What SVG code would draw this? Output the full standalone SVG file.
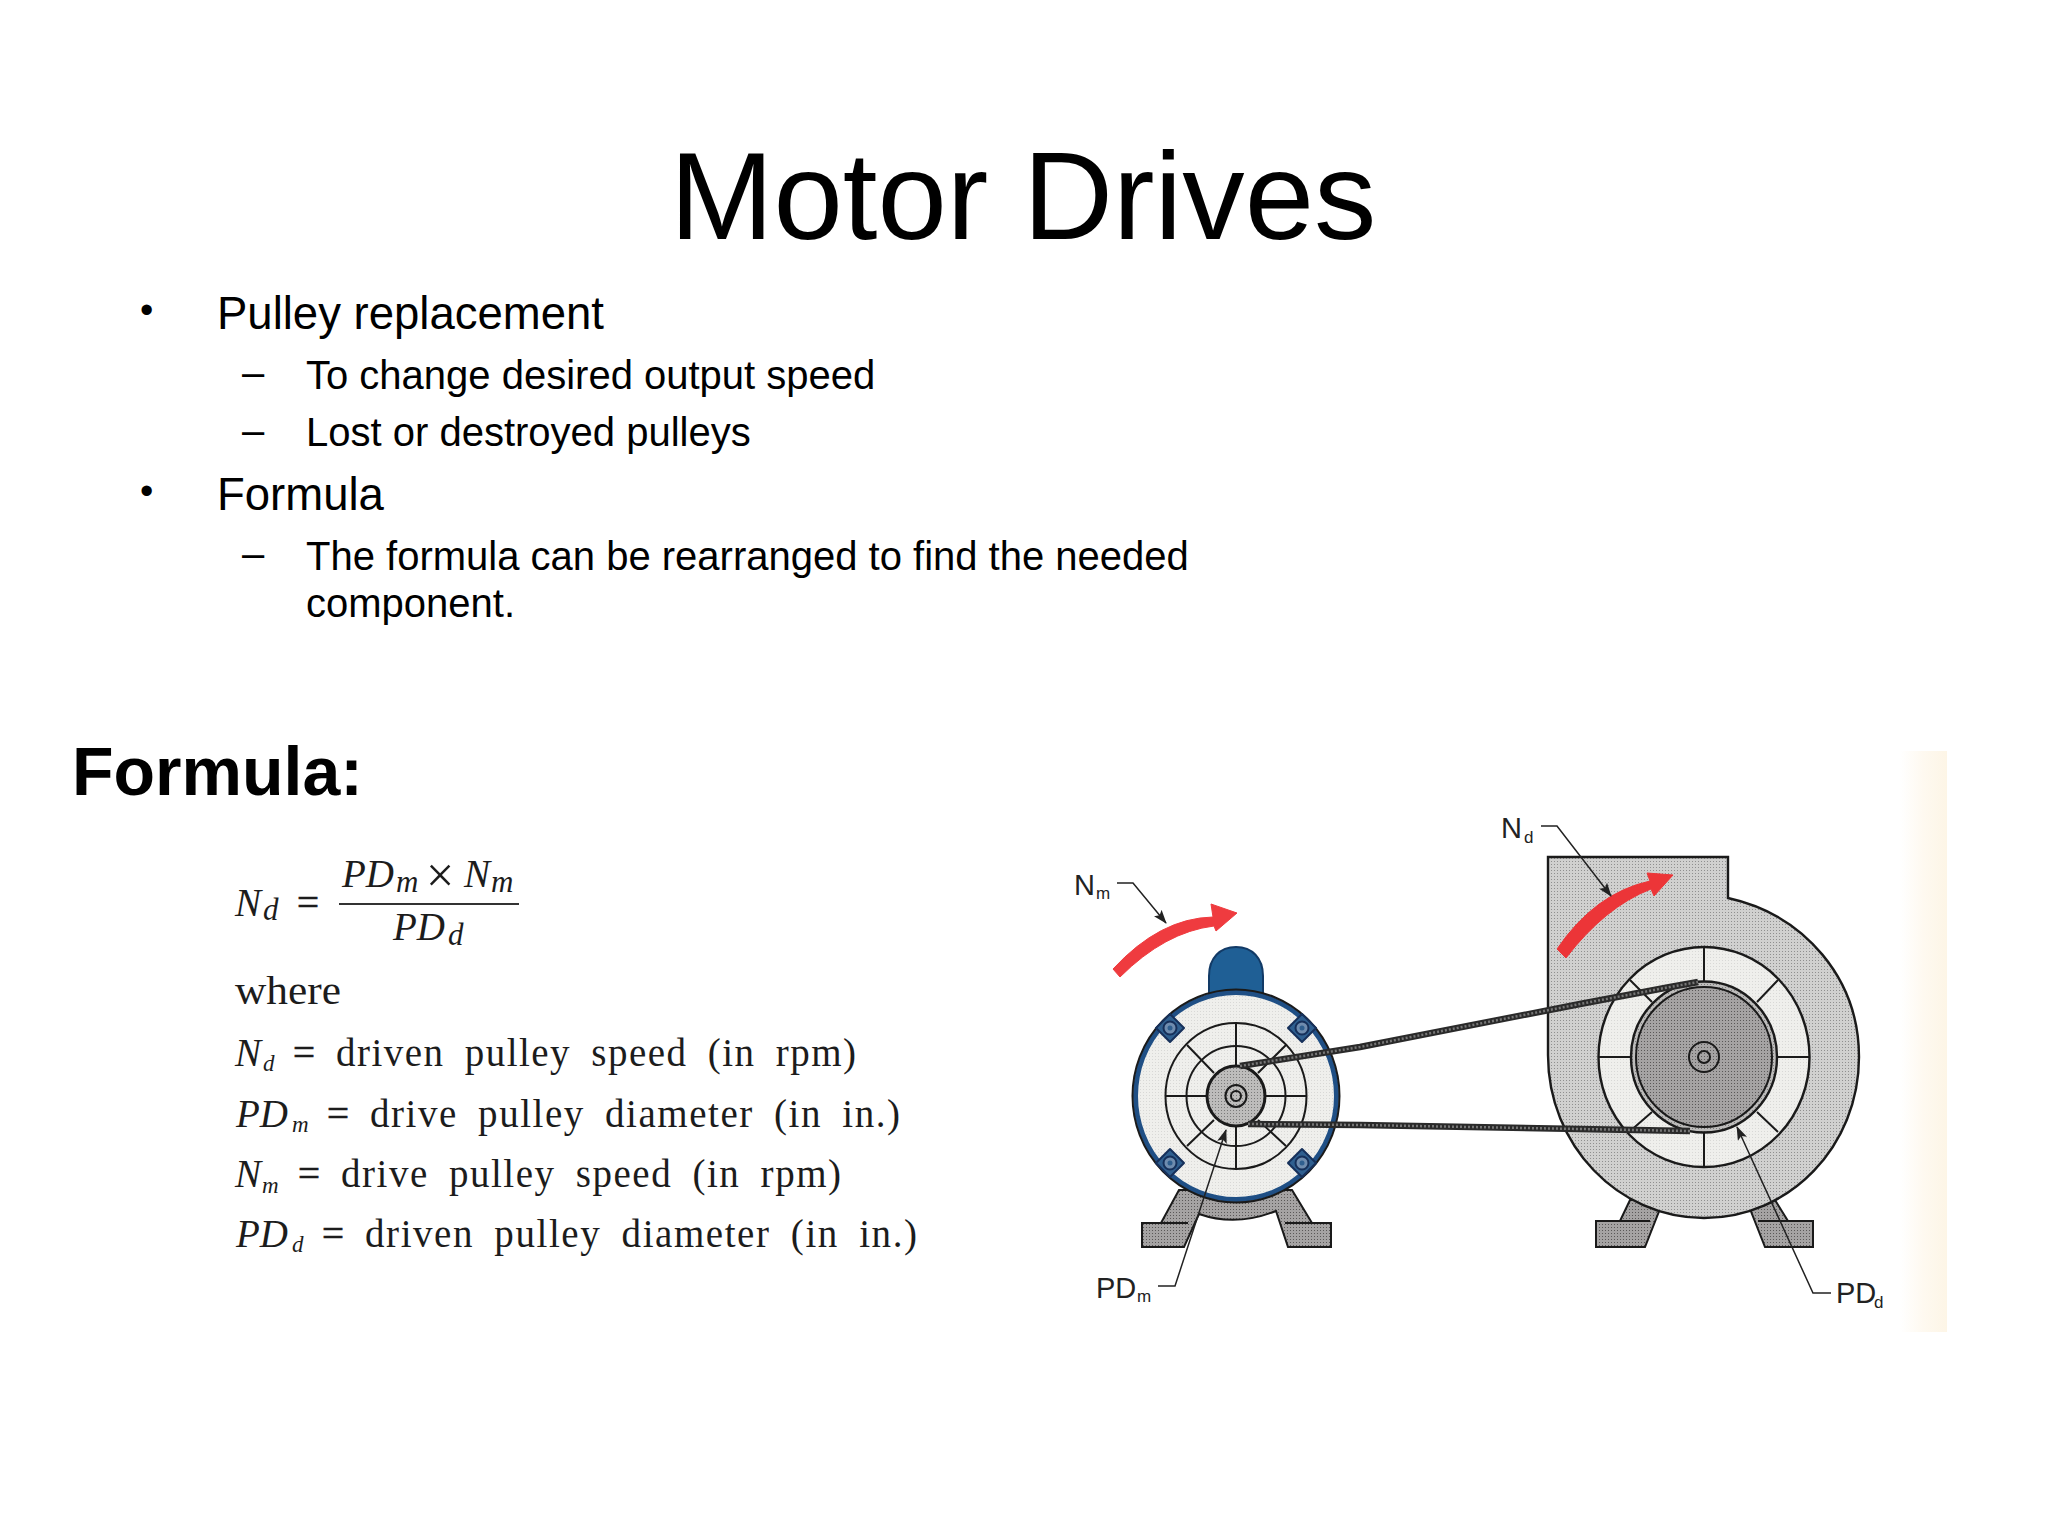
<svg xmlns="http://www.w3.org/2000/svg" width="2048" height="1536" viewBox="0 0 2048 1536">
<style>
.s{font-family:"Liberation Sans",Arial,sans-serif;fill:#000}
.b{font-size:45.5px}.c{font-size:40px}.d{font-size:38px}
.t{font-family:"Liberation Serif","Times New Roman",serif;fill:#1c1c1c;font-size:39px}
.w{word-spacing:9px}.e{stroke:#1c1c1c;stroke-width:.7px}
.i{font-style:italic}.u{font-size:23px;font-style:italic}.v{font-size:31px;font-style:italic}
.l{font-family:"Liberation Sans",Arial,sans-serif;fill:#222;font-size:29px}.ls{font-size:17px}
.k{fill:none;stroke:#1a1a1a;stroke-width:2}
.ld{fill:none;stroke:#222;stroke-width:1.5}
.belt{fill:none;stroke:#2a2a2a;stroke-width:6.5}
.beltm{fill:none;stroke:#777;stroke-width:2.5;stroke-dasharray:2 2}
</style>
<defs>
<linearGradient id="paper" x1="0" x2="1" y1="0" y2="0"><stop offset="0" stop-color="#fff"/><stop offset=".5" stop-color="#fef9f0"/><stop offset="1" stop-color="#fdf5e6"/></linearGradient>
<pattern id="h1" width="3" height="3" patternUnits="userSpaceOnUse"><rect width="3" height="3" fill="#d0d0cf"/><rect width="1" height="1" fill="#8f8f8f"/></pattern>
<pattern id="h2" width="3" height="3" patternUnits="userSpaceOnUse"><rect width="3" height="3" fill="#a5a3a3"/><rect width="1" height="1" fill="#5a5858"/></pattern>
<pattern id="h3" width="3" height="3" patternUnits="userSpaceOnUse"><rect width="3" height="3" fill="#bdbcbb"/><rect width="1" height="1" fill="#7a7a7a"/></pattern>
<pattern id="h4" width="3" height="3" patternUnits="userSpaceOnUse"><rect width="3" height="3" fill="#efefec"/><rect width="1" height="1" fill="#d8d8d6"/></pattern>
<marker id="ah" markerWidth="14" markerHeight="10" refX="13" refY="5" orient="auto" markerUnits="userSpaceOnUse"><path d="M0 0L14 5L0 10L3 5Z" fill="#222"/></marker>
<g id="bolt"><path d="M0 -14L14 0L0 14L-14 0Z" fill="#2f5f8f" stroke="#16305a" stroke-width="2" stroke-linejoin="round"/><circle r="6.500" fill="#6f8cae" stroke="#16305a" stroke-width="2"/><circle r="2.500" fill="#2f5f8f"/></g>
</defs>
<rect width="2048" height="1536" fill="#fff"/>
<rect x="1900" y="751" width="47" height="581" fill="url(#paper)"/>
<g id="title"><text class="s" x="1023" y="239" font-size="124.700" text-anchor="middle">Motor Drives</text></g>
<g id="bullets">
<text class="s d" x="140" y="323">•</text><text class="s b" x="217" y="329">Pulley replacement</text>
<text class="s c" x="242" y="386">–</text><text class="s c" x="306" y="389">To change desired output speed</text>
<text class="s c" x="242" y="444">–</text><text class="s c" x="306" y="446">Lost or destroyed pulleys</text>
<text class="s d" x="140" y="504">•</text><text class="s b" x="217" y="510">Formula</text>
<text class="s c" x="242" y="567">–</text><text class="s c" x="306" y="570">The formula can be rearranged to find the needed</text>
<text class="s c" x="306" y="617">component.</text>
</g>
<text id="formula-heading" class="s" x="72" y="795" font-size="68" font-weight="700">Formula:</text>
<g id="formula">
<text class="t i" x="235" y="916">N</text><text class="t v" x="263" y="920">d</text><text class="t e" x="297" y="916">=</text>
<text class="t i" x="342" y="887">PD</text><text class="t v" x="396" y="892">m</text>
<text class="t" x="426" y="892" style="font-size:50px">×</text><text class="t i" x="464" y="887">N</text><text class="t v" x="491" y="892">m</text>
<rect x="339" y="903" width="180" height="2" fill="#333"/>
<text class="t i" x="393" y="940">PD</text><text class="t v" x="448" y="945">d</text>
<text class="t" x="235" y="1004" textLength="106" lengthAdjust="spacingAndGlyphs">where</text>
<text class="t i" x="235" y="1066">N</text><text class="t u" x="263" y="1071">d</text><text class="t e" x="293" y="1066">=</text><text class="t w" x="336" y="1066" textLength="520" lengthAdjust="spacing">driven pulley speed (in rpm)</text>
<text class="t i" x="236" y="1127">PD</text><text class="t u" x="292" y="1132">m</text><text class="t e" x="327" y="1127">=</text><text class="t w" x="370" y="1127" textLength="530" lengthAdjust="spacing">drive pulley diameter (in in.)</text>
<text class="t i" x="235" y="1187">N</text><text class="t u" x="262" y="1193">m</text><text class="t e" x="298" y="1187">=</text><text class="t w" x="341" y="1187" textLength="500" lengthAdjust="spacing">drive pulley speed (in rpm)</text>
<text class="t i" x="236" y="1247">PD</text><text class="t u" x="292" y="1252">d</text><text class="t e" x="322" y="1247">=</text><text class="t w" x="365" y="1247" textLength="552" lengthAdjust="spacing">driven pulley diameter (in in.)</text>
</g>
<g id="motor">
<path d="M1142 1223H1161L1179 1190H1292L1312 1223H1331V1247H1288L1276 1211Q1236 1227 1199 1214L1184 1247H1142Z" fill="url(#h2)" stroke="#1a1a1a" stroke-width="2"/>
<path d="M1161 1223H1188M1285 1223H1312" class="k"/>
<path d="M1209 1000V976C1209 958 1220 947 1236 947C1252 947 1263 958 1263 976V1000Z" fill="#1f5f95" stroke="#123a66" stroke-width="2"/>
<ellipse cx="1236" cy="1096" rx="100.500" ry="103.500" fill="url(#h4)" stroke="#1f4f85" stroke-width="5"/>
<ellipse cx="1236" cy="1096" rx="103.500" ry="106.500" class="k"/>
<ellipse cx="1236" cy="1096" rx="70.500" ry="73" class="k"/><ellipse cx="1236" cy="1096" rx="49.500" ry="50" class="k"/>
<path d="M1236 1023V1066M1236 1126V1169M1166 1096H1207M1265 1096H1306M1187 1045L1214 1073M1286 1045L1258 1073M1187 1146L1214 1120M1286 1146L1258 1120" class="k"/>
<use href="#bolt" x="1170" y="1028"/><use href="#bolt" x="1302" y="1028"/><use href="#bolt" x="1170" y="1163"/><use href="#bolt" x="1302" y="1163"/>
<ellipse cx="1236" cy="1096" rx="29" ry="30" fill="url(#h3)" stroke="#1a1a1a" stroke-width="3"/>
<ellipse cx="1236" cy="1096" rx="10.500" ry="11" class="k"/><circle cx="1236" cy="1096" r="5" class="k"/>
</g>
<g id="blower">
<path d="M1630 1200H1645L1660 1209H1750L1765 1200H1775L1788 1221H1813V1247H1765L1750 1209H1660L1645 1247H1596V1221H1620Z" fill="url(#h2)" stroke="#1a1a1a" stroke-width="2"/>
<path d="M1620 1221H1650M1758 1221H1813" class="k"/>
<path d="M1548 857H1728V898C1805 915 1859 979 1859 1057C1859 1146 1790 1218 1704 1218C1618 1218 1548 1145 1548 1055Z" fill="url(#h1)" stroke="#1a1a1a" stroke-width="2.400"/>
<ellipse cx="1704" cy="1057" rx="105.500" ry="110" fill="url(#h4)" stroke="#1a1a1a" stroke-width="2.400"/>
<path d="M1704 947V981M1704 1132V1167M1598 1057H1631M1777 1057H1810M1630 980L1652 1002M1778 980L1757 1002M1629 1132L1652 1112M1778 1132L1757 1112" class="k"/>
<ellipse cx="1704" cy="1057" rx="73" ry="75.500" fill="url(#h3)" stroke="#1a1a1a" stroke-width="2.400"/>
<ellipse cx="1704" cy="1057" rx="68" ry="70" fill="url(#h2)" stroke="#1a1a1a" stroke-width="2"/>
<circle cx="1704" cy="1057" r="15" class="k"/><circle cx="1704" cy="1057" r="6" class="k"/>
</g>
<g id="connectors">
<path class="belt" d="M1240 1066L1360 1047L1580 1004L1670 987L1698 982"/><path class="beltm" d="M1240 1066L1360 1047L1580 1004L1670 987L1698 982"/>
<path class="belt" d="M1248 1124L1360 1125L1580 1129L1690 1131"/><path class="beltm" d="M1248 1124L1360 1125L1580 1129L1690 1131"/>
<path d="M1113 969Q1160 918 1213 917L1211 904L1237 913L1216 931L1214 926Q1165 932 1120 977Z" fill="#ef3b3f" stroke="#ef3b3f" stroke-width="1"/>
<path d="M1557 949Q1595 893 1650 881L1647 873L1673 875L1654 896L1651 889Q1605 907 1566 958Z" fill="#ec3538" stroke="#ec3538" stroke-width="1"/>
<path class="ld" marker-end="url(#ah)" d="M1117 883H1133L1166 923"/>
<path class="ld" marker-end="url(#ah)" d="M1541 826H1557L1611 896"/>
<path class="ld" marker-end="url(#ah)" d="M1158 1286H1175L1226 1130"/>
<path class="ld" marker-end="url(#ah)" d="M1831 1293H1813L1737 1127"/>
</g>
<g id="labels">
<text class="l" x="1074" y="895">N</text><text class="l ls" x="1096" y="899">m</text>
<text class="l" x="1501" y="838">N</text><text class="l ls" x="1524" y="843">d</text>
<text class="l" x="1096" y="1298">PD</text><text class="l ls" x="1137" y="1302">m</text>
<text class="l" x="1836" y="1303">PD</text><text class="l ls" x="1874" y="1308">d</text>
</g>
</svg>
